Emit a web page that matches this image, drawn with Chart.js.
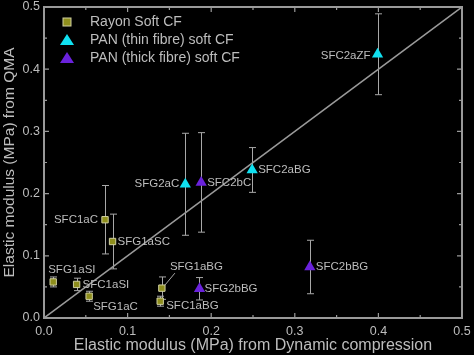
<!DOCTYPE html>
<html><head><meta charset="utf-8">
<script src="https://cdn.jsdelivr.net/npm/chart.js@4"></script>
<style>html,body{margin:0;padding:0;background:#000;}#wrap{width:474px;height:355px;}</style>
</head><body><div id="wrap"><canvas id="c" width="474" height="355"></canvas></div>
<script>
// ---- data ----
const rayonNames = ['SFG1aSI','SFC1aSI','SFG1aC','SFC1aC','SFG1aSC','SFG1aBG','SFC1aBG'];
const rayonX = [0.011,0.039,0.054,0.073,0.082,0.141,0.139];
const rayonY = [0.058,0.054,0.035,0.158,0.123,0.048,0.027];
const rayonErr = [0.008,0.010,0.008,0.055,0.044,0.018,0.008];
const thinNames = ['SFG2aC','SFC2aBG','SFC2aZF'];
const thinX = [0.169,0.249,0.399];
const thinY = [0.215,0.238,0.424];
const thinErr = [0.082,0.036,0.065];
const thickNames = ['SFC2bC','SFG2bBG','SFC2bBG'];
const thickX = [0.188,0.186,0.318];
const thickY = [0.218,0.047,0.082];
const thickErr = [0.080,0.018,0.043];
const seriesLabels = ['Rayon Soft CF','PAN (thin fibre) soft CF','PAN (thick fibre) soft CF'];
const axisMin = 0, axisMax = 0.5, majorStep = 0.1, minorStep = 0.05;
const xTitle = 'Elastic modulus (MPa) from Dynamic compression';
const yTitle = 'Elastic modulus (MPa) from QMA';

// ---- label placement (style: pixel offsets from marker) ----
const place = {
  SFG1aSI:{dx:-5,dy:-12,align:'left'}, SFC1aSI:{dx:6,dy:0,align:'left'},
  SFG1aC:{dx:4,dy:11,align:'left'}, SFC1aC:{dx:-7,dy:0,align:'right'},
  SFG1aSC:{dx:5,dy:0,align:'left'}, SFG1aBG:{dx:8,dy:-21,align:'left',leader:true},
  SFC1aBG:{dx:6,dy:5,align:'left'}, SFG2aC:{dx:-6,dy:0,align:'right'},
  SFC2aBG:{dx:6,dy:0,align:'left'}, SFC2aZF:{dx:-7,dy:2,align:'right'},
  SFC2bC:{dx:6,dy:0,align:'left'}, SFG2bBG:{dx:5,dy:0,align:'left'},
  SFC2bBG:{dx:6,dy:0,align:'left'}
};

function pts(xs, ys, errs, names){ return xs.map((x,i)=>({x:x,y:ys[i],err:errs[i],name:names[i]})); }

const FONT = "'Liberation Sans', Arial, Helvetica, sans-serif";
const TXT = '#bdbdbd';
const AX = '#9a9a9a';

const overlay = {
  id:'overlay',
  beforeDatasetsDraw(chart){
    const ctx = chart.ctx, xs = chart.scales.x, ys = chart.scales.y;
    ctx.save();
    ctx.strokeStyle = '#a8a8a8'; ctx.lineWidth = 1;
    chart.data.datasets.forEach(ds=>{
      if(!ds.errorBars) return;
      ds.data.forEach(p=>{
        const px = Math.round(xs.getPixelForValue(p.x))+0.5;
        const y1 = ys.getPixelForValue(p.y+p.err), y2 = ys.getPixelForValue(p.y-p.err);
        ctx.beginPath();
        ctx.moveTo(px,y1); ctx.lineTo(px,y2);
        ctx.moveTo(px-3.5,y1); ctx.lineTo(px+3.5,y1);
        ctx.moveTo(px-3.5,y2); ctx.lineTo(px+3.5,y2);
        ctx.stroke();
      });
    });
    ctx.restore();
  },
  afterDraw(chart){
    const ctx = chart.ctx, xs = chart.scales.x, ys = chart.scales.y, a = chart.chartArea;
    ctx.save();
    // frame
    ctx.strokeStyle = AX; ctx.lineWidth = 2;
    ctx.strokeRect(a.left, a.top, a.right-a.left, a.bottom-a.top);
    // inward ticks
    ctx.lineWidth = 1.2;
    ctx.beginPath();
    for(let v=axisMin; v<=axisMax+1e-9; v+=minorStep){
      const major = Math.abs(v/majorStep - Math.round(v/majorStep))<1e-6;
      const len = major?5:3;
      const px = xs.getPixelForValue(v), py = ys.getPixelForValue(v);
      ctx.moveTo(px,a.bottom); ctx.lineTo(px,a.bottom-len);
      ctx.moveTo(px,a.top); ctx.lineTo(px,a.top+len);
      ctx.moveTo(a.left,py); ctx.lineTo(a.left+len,py);
      ctx.moveTo(a.right,py); ctx.lineTo(a.right-len,py);
    }
    ctx.stroke();
    // point labels
    ctx.font = '11.5px '+FONT; ctx.fillStyle = TXT; ctx.textBaseline = 'middle';
    chart.data.datasets.forEach(ds=>{
      if(!ds.errorBars) return;
      ds.data.forEach(p=>{
        const o = place[p.name] || {dx:6,dy:0,align:'left'};
        const px = xs.getPixelForValue(p.x), py = ys.getPixelForValue(p.y);
        ctx.textAlign = o.align;
        ctx.fillText(p.name, px+o.dx, py+o.dy);
        if(o.leader){
          ctx.strokeStyle = '#a8a8a8'; ctx.lineWidth = 1;
          ctx.beginPath(); ctx.moveTo(px+3,py-3); ctx.lineTo(px+o.dx+5,py+o.dy+6); ctx.stroke();
        }
      });
    });
    // legend
    ctx.font = '14px '+FONT; ctx.textAlign='left'; ctx.textBaseline='middle';
    const lx = 67, ly = [22,40,58];
    chart.data.datasets.forEach((ds,i)=>{
      if(!ds.errorBars) return;
      const y = ly[i];
      ctx.fillStyle = ds.backgroundColor; ctx.strokeStyle = ds.borderColor; ctx.lineWidth = 1;
      if(ds.pointStyle==='rect'){
        ctx.fillRect(lx-4,y-4,8,8); ctx.strokeRect(lx-4,y-4,8,8);
      } else {
        ctx.beginPath(); ctx.moveTo(lx,y-6); ctx.lineTo(lx+7,y+5); ctx.lineTo(lx-7,y+5); ctx.closePath(); ctx.fill();
      }
      ctx.fillStyle = TXT;
      ctx.fillText(ds.label, 90, y);
    });
    ctx.restore();
  }
};

new Chart(document.getElementById('c'), {
  type:'scatter',
  data:{datasets:[
    {label:seriesLabels[0], data:pts(rayonX,rayonY,rayonErr,rayonNames), errorBars:true,
     pointStyle:'rect', pointRadius:4.5, backgroundColor:'#8e8e1c', borderColor:'#d0d0a0', borderWidth:1},
    {label:seriesLabels[1], data:pts(thinX,thinY,thinErr,thinNames), errorBars:true,
     pointStyle:'triangle', pointRadius:6.5, backgroundColor:'#10e0f0', borderColor:'#10e0f0', borderWidth:0},
    {label:seriesLabels[2], data:pts(thickX,thickY,thickErr,thickNames), errorBars:true,
     pointStyle:'triangle', pointRadius:6.5, backgroundColor:'#6a22dc', borderColor:'#6a22dc', borderWidth:0},
    {label:'diag', data:[{x:axisMin,y:axisMin},{x:axisMax,y:axisMax}], showLine:true, pointRadius:0,
     borderColor:'#9a9a9a', borderWidth:1.5, order:5}
  ]},
  options:{
    responsive:false, devicePixelRatio:1, animation:false,
    layout:{padding:{top:7,right:12,left:0,bottom:0}},
    plugins:{legend:{display:false}, tooltip:{enabled:false}},
    scales:{
      x:{type:'linear', min:axisMin, max:axisMax,
        grid:{display:false, drawTicks:false}, border:{display:false},
        ticks:{stepSize:majorStep, padding:6, color:TXT, font:{family:FONT,size:12.5}, callback:v=>v.toFixed(1)},
        title:{display:true, text:xTitle, color:TXT, font:{family:FONT,size:16}, padding:{top:0,bottom:0}},
        afterFit:s=>{s.height=37; s.paddingLeft=0; s.paddingRight=0;}},
      y:{type:'linear', min:axisMin, max:axisMax,
        grid:{display:false, drawTicks:false}, border:{display:false},
        ticks:{stepSize:majorStep, padding:4, color:TXT, font:{family:FONT,size:12.5}, callback:v=>v.toFixed(1)},
        title:{display:true, text:yTitle, color:TXT, font:{family:FONT,size:15.5}, padding:{top:0,bottom:0}},
        afterFit:s=>{s.width=44; s.paddingTop=0; s.paddingBottom=0;}}
    }
  },
  plugins:[overlay]
});
</script></body></html>
